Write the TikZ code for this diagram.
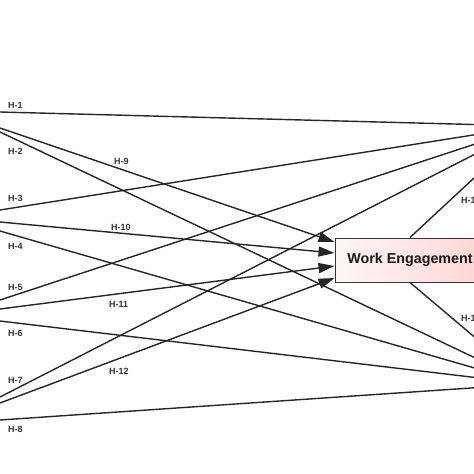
\documentclass[tikz,border=0pt]{standalone}
\usepackage{fontspec}
\setmainfont{Liberation Sans}
\usetikzlibrary{
  arrows.meta,
  calc
}
\tikzset{
  >={Triangle[length=16pt,width=10pt]},
  link/.style={draw=black!85, line width=1.4pt},
  hyp/.style={font=\bfseries\fontsize{9}{10}\selectfont, text=black!80, anchor=west, inner sep=0pt},
  construct/.style={draw=black!80, line width=1pt, minimum width=150pt, minimum height=44pt,
    left color=red!4, right color=red!16, text=black!90, font=\bfseries\fontsize{14.3}{16}\selectfont}
}

\begin{document}
\begin{tikzpicture}[x=1pt, y=-1pt]
    \useasboundingbox (0,0) rectangle (474,474);
    \clip (0,0) rectangle (474,474);
    % mediator and the two outcomes (right of the frame)
    \node[construct] (we) at (410,260) {Work Engagement};
    \coordinate (outA) at (530,126);
    \coordinate (outB) at (530,384);
    % start points of the paths, one group per predictor
    \coordinate (a1) at (0,112);  \coordinate (a9) at (0,128);  \coordinate (a2) at (0,132);
    \coordinate (b3) at (0,210);  \coordinate (b10) at (0,222); \coordinate (b4) at (0,231);
    \coordinate (c5) at (0,300);  \coordinate (c11) at (0,309); \coordinate (c6) at (0,321);
    \coordinate (d7) at (0,397);  \coordinate (d12) at (0,403); \coordinate (d8) at (0,420);
    % direct paths
    \draw[link] (a1) -- (outA);
    \draw[link] (a2) -- (outB);
    \draw[link] (b3) -- (outA);
    \draw[link] (b4) -- (outB);
    \draw[link] (c5) -- (outA);
    \draw[link] (c6) -- (outB);
    \draw[link] (d7) -- (outA);
    \draw[link] (d8) -- (outB);
    % paths into work engagement
    \draw[link, ->, fill=black] (a9) -- ($(we.west)+(0,-18)$);
    \draw[link, ->, fill=black] (b10) -- ($(we.west)+(0,-7)$);
    \draw[link, ->, fill=black] (c11) -- ($(we.west)+(0,6)$);
    \draw[link, ->, fill=black] (d12) -- ($(we.west)+(0,18)$);
    \draw[link] (we.north) -- (outA);
    \draw[link] (we.south) -- (outB);
    % labels
    \node[hyp] (h1) at (8,105) {H-1};
    \node[hyp] (h2) at (8,151) {H-2};
    \node[hyp] (h3) at (8,198) {H-3};
    \node[hyp] (h4) at (8,246) {H-4};
    \node[hyp] (h5) at (8,287) {H-5};
    \node[hyp] (h6) at (8,333) {H-6};
    \node[hyp] (h7) at (8,380) {H-7};
    \node[hyp] (h8) at (8,429) {H-8};
    \node[hyp] (h9) at (114,161) {H-9};
    \node[hyp] (h10) at (111,227) {H-10};
    \node[hyp] (h11) at (109,304) {H-11};
    \node[hyp] (h12) at (109,371) {H-12};
    \node[hyp] (h13) at (461,200) {H-13};
    \node[hyp] (h14) at (461,318) {H-14};
\end{tikzpicture}
\end{document}
